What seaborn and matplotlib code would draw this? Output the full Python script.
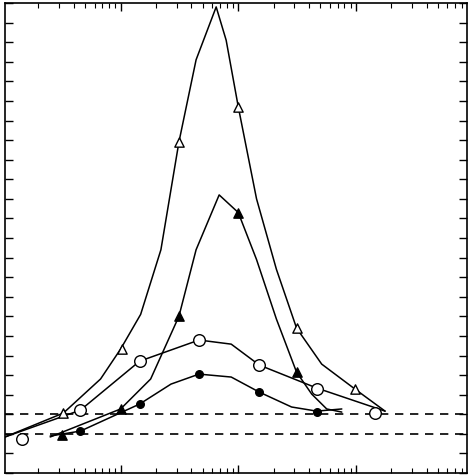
import numpy as np
import pandas as pd
import seaborn as sns
import matplotlib.pyplot as plt
from matplotlib.ticker import LogLocator, NullFormatter, MultipleLocator

sns.set_style('white')

# 곡선 (손으로 읽은 값)
tri_open_cx = [0.104, 0.326, 0.675, 1.0, 1.48, 2.20, 3.13, 4.38, 6.49, 7.89, 10, 14.3, 21.1, 31.3, 51.2, 98, 177]
tri_open_cy = [1.84, 3.06, 4.80, 6.33, 8.1, 11.4, 16.9, 21.1, 23.8, 22.1, 18.7, 14.0, 10.4, 7.4, 5.56, 4.29, 3.16]
tri_fill_cx = [0.252, 1.0, 1.80, 3.13, 4.38, 6.88, 10, 14.3, 21.1, 31.3, 42.1, 56.5, 75.9]
tri_fill_cy = [1.84, 3.27, 4.80, 8.0, 11.4, 14.2, 13.3, 10.9, 7.86, 5.15, 4.03, 3.27, 3.11]
circ_open_cx = [0.104, 0.455, 1.45, 4.64, 8.71, 15.1, 46.4, 177]
circ_open_cy = [1.84, 3.21, 5.71, 6.79, 6.58, 5.51, 4.34, 3.16]
circ_fill_cx = [0.252, 0.455, 1.45, 2.68, 4.64, 8.71, 15.1, 28.4, 46.4, 75.9]
circ_fill_cy = [1.89, 2.14, 3.52, 4.54, 5.05, 4.90, 4.13, 3.37, 3.16, 3.27]

# 측정점
tri_open_x = [0.326, 1.02, 3.13, 10, 31.3, 98]
tri_open_y = [3.06, 6.33, 16.9, 18.7, 7.4, 4.29]
tri_fill_x = [0.32, 1.0, 3.13, 10, 31.3]
tri_fill_y = [1.94, 3.27, 8.0, 13.3, 5.15]
circ_open_x = [0.145, 0.455, 1.45, 4.64, 15.1, 46.4, 145]
circ_open_y = [1.73, 3.2, 5.7, 6.8, 5.5, 4.3, 3.06]
circ_fill_x = [0.455, 1.45, 4.64, 15.1, 46.4]
circ_fill_y = [2.14, 3.52, 5.05, 4.13, 3.11]

baselines = [2.0, 3.0]

fig = plt.figure(figsize=(4.74, 4.77), dpi=100)
ax = fig.add_axes([5 / 474, 3 / 477, 462 / 474, 470 / 477])

for cx, cy in [(tri_open_cx, tri_open_cy), (tri_fill_cx, tri_fill_cy),
               (circ_open_cx, circ_open_cy), (circ_fill_cx, circ_fill_cy)]:
    sns.lineplot(x=cx, y=cy, ax=ax, color='black', lw=1.1, sort=False, estimator=None)

kw = dict(ax=ax, s=45, edgecolor='black', linewidth=1.0, zorder=3, legend=False)
sns.scatterplot(x=tri_open_x, y=tri_open_y, marker='^', color='white', **kw)
sns.scatterplot(x=tri_fill_x, y=tri_fill_y, marker='^', color='black', **kw)
sns.scatterplot(x=circ_open_x, y=circ_open_y, marker='o', color='white', s=70, **{k: v for k, v in kw.items() if k != 's'})
sns.scatterplot(x=circ_fill_x, y=circ_fill_y, marker='o', color='black', s=30, **{k: v for k, v in kw.items() if k != 's'})

for b in baselines:
    ax.axhline(b, color='black', ls=(0, (5, 4)), lw=1.2)

ax.set_xscale('log')
ax.set_xlim(0.104, 880)
ax.set_ylim(0, 24)
ax.xaxis.set_major_locator(LogLocator(base=10))
ax.xaxis.set_minor_locator(LogLocator(base=10, subs=np.arange(2, 10)))
ax.xaxis.set_major_formatter(NullFormatter())
ax.xaxis.set_minor_formatter(NullFormatter())
ax.yaxis.set_major_locator(MultipleLocator(1))
ax.set_yticklabels([])
ax.tick_params(which='both', direction='in', top=True, right=True, bottom=True, left=True, color='black')
ax.tick_params(which='major', length=6, width=1)
ax.tick_params(which='minor', length=3.5, width=0.8)
for s in ax.spines.values():
    s.set_color('black')
    s.set_linewidth(1.2)

fig.savefig('out.png', dpi=100)
